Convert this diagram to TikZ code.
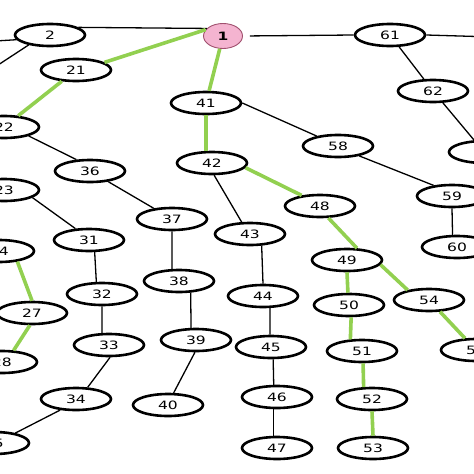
\documentclass[tikz,border=0pt]{standalone}
\usepackage{fontspec}
\newfontfamily\nodefont{DejaVu Sans}[FakeStretch=1.35]
\usetikzlibrary{shapes.geometric}
\definecolor{pathgreen}{HTML}{92D050}
\definecolor{rootfill}{HTML}{F4B4D0}
\definecolor{rootline}{HTML}{A0506E}
\begin{document}
\begin{tikzpicture}[%
    x=1pt,y=-1pt,
    tn/.style={ellipse,draw,line width=2.6pt,fill=white,minimum width=70pt,minimum height=22pt,inner sep=0pt,font=\nodefont\fontsize{11.5}{12}\selectfont},
    root/.style={ellipse,draw=rootline,line width=0.9pt,fill=rootfill,minimum width=39pt,minimum height=25pt,inner sep=0pt,font=\nodefont\fontsize{11.5}{12}\selectfont\bfseries},
    ln/.style={line width=1.3pt},
    gr/.style={line width=3.6pt,pathgreen}
  ]
		\useasboundingbox (0,0) rectangle (474,474);
		\clip (0,0) rectangle (474,474);

		\coordinate (c3) at (-120,48);
		\coordinate (c20) at (-60,103);
		\coordinate (c64) at (560,39);

		\node at (223,36) [root] (n1) {1};
		\node at (50,35) [tn] (n2) {2};
		\node at (76,70) [tn] (n21) {21};
		\node at (4,127) [tn] (n22) {22};
		\node at (4,190) [tn] (n23) {23};
		\node at (-1,251) [tn] (n24) {24};
		\node at (32,313) [tn] (n27) {27};
		\node at (2,362) [tn] (n28) {28};
		\node at (89,240) [tn] (n31) {31};
		\node at (102,294) [tn] (n32) {32};
		\node at (109,345) [tn] (n33) {33};
		\node at (76,399) [tn] (n34) {34};
		\node at (-6,443) [tn] (n35) {35};
		\node at (90,171) [tn] (n36) {36};
		\node at (172,219) [tn] (n37) {37};
		\node at (179,281) [tn] (n38) {38};
		\node at (196,340) [tn] (n39) {39};
		\node at (168,405) [tn] (n40) {40};
		\node at (206,103) [tn] (n41) {41};
		\node at (212,163) [tn] (n42) {42};
		\node at (250,234) [tn] (n43) {43};
		\node at (263,296) [tn] (n44) {44};
		\node at (271,347) [tn] (n45) {45};
		\node at (277,397) [tn] (n46) {46};
		\node at (277,448) [tn] (n47) {47};
		\node at (320,206) [tn] (n48) {48};
		\node at (347,260) [tn] (n49) {49};
		\node at (349,305) [tn] (n50) {50};
		\node at (362,351) [tn] (n51) {51};
		\node at (372,399) [tn] (n52) {52};
		\node at (373,448) [tn] (n53) {53};
		\node at (429,300) [tn] (n54) {54};
		\node at (476,350) [tn] (n55) {55};
		\node at (338,146) [tn] (n58) {58};
		\node at (452,196) [tn] (n59) {59};
		\node at (457,247) [tn] (n60) {60};
		\node at (390,35) [tn] (n61) {61};
		\node at (433,91) [tn] (n62) {62};
		\node at (484,152) [tn] (n63) {63};

		\draw[ln] (n2.15) -- (n1.155);
		\draw[ln] (n2.188) -- (c3);
		\draw[ln] (n2.-155) -- (c20);
		\draw[ln,shorten <=7pt] (n1.east) -- (n61.west);
		\draw[ln] (n61.east) -- (c64);
		\draw[ln] (n61) -- (n62);
		\draw[ln] (n62) -- (n63);
		\draw[gr] (n1.160) -- (n21.15);
		\draw[gr] (n1) -- (n41);
		\draw[gr] (n21) -- (n22);
		\draw[gr] (n41.south) -- (n42.north -| n41.south);
		\draw[ln] (n41.east) -- (n58.155);
		\draw[ln] (n58.-25) -- (n59.150);
		\draw[ln] (n59.south) -- (n60.110);
		\draw[ln] (n22.-20) -- (n36.140);
		\draw[ln] (n36) -- (n37);
		\draw[ln] (n23.-15) -- (n31.140);
		\draw[ln] (n31.-65) -- (n32.115);
		\draw[ln] (n32.south) -- (n33.120);
		\draw[ln] (n33.-85) -- (n34.45);
		\draw[ln] (n34.-145) -- (n35.25);
		\draw[gr] (n24.-30) -- (n27.north);
		\draw[gr] (n27.-100) -- (n28.45);
		\draw[ln] (n37.south) -- (n38.120);
		\draw[ln] (n38.-45) -- (n39.112);
		\draw[ln] (n39.-95) -- (n40.65);
		\draw[ln] (n42.-80) -- (n43.125);
		\draw[gr] (n42.-8) -- (n48.150);
		\draw[ln] (n43.-45) -- (n44.north);
		\draw[ln] (n44.-60) -- (n45.95);
		\draw[ln] (n45.-80) -- (n46.105);
		\draw[ln] (n46.-105) -- (n47.105);
		\draw[gr] (n48.-55) -- (n49.50);
		\draw[gr] (n49.south) -- (n50.95);
		\draw[gr] (n49.-8) -- (n54.155);
		\draw[gr] (n54) -- (n55);
		\draw[gr] (n50.-80) -- (n51.135);
		\draw[gr] (n51.-85) -- (n52.125);
		\draw[gr] (n52.south) -- (n53.north);
	\end{tikzpicture}
\end{document}
